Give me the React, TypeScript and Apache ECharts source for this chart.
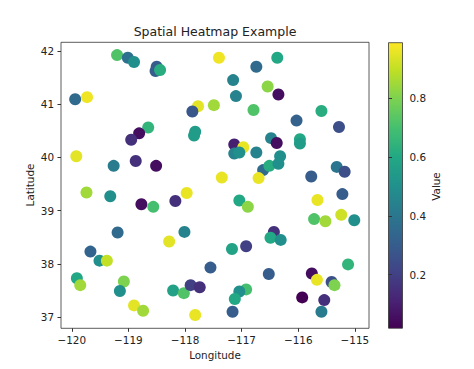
import React, { useEffect, useRef } from "react";
import * as echarts from "echarts";

const longitudes = [
  -119.2, -119.01, -118.9, -118.5, -118.52, -118.44, -117.4, -119.94, -119.73, -117.77,
  -117.49, -117.87, -118.65, -118.81, -118.95, -117.82, -117.84, -119.92, -119.26, -118.87,
  -118.51, -117.35, -116.74, -116.37, -117.15, -116.54, -116.35, -117.1, -116.79, -115.59,
  -116.03, -115.28, -116.48, -116.38, -115.97, -115.97, -117.13, -116.97, -117.13, -117.04,
  -116.74, -116.32, -116.62, -116.51, -116.35, -116.7, -115.77, -115.32, -115.18, -119.74,
  -119.32, -118.77, -118.56, -118.17, -117.97, -119.19, -118.28, -118.01, -119.67, -119.51,
  -119.38, -117.55, -119.91, -119.85, -119.08, -119.15, -118.21, -118.02, -117.9, -117.74,
  -118.9, -118.74, -117.82, -117.04, -116.89, -115.66, -115.22, -115.72, -115.52, -115.24,
  -115.01, -116.43, -116.49, -116.31, -117.17, -116.92, -116.52, -115.12, -115.76, -115.67,
  -115.41, -115.36, -115.93, -115.54, -116.92, -117.04, -117.12, -117.16, -115.59,
];

const latitudes = [
  41.92, 41.87, 41.79, 41.7, 41.62, 41.64, 41.87, 41.09, 41.13, 40.96,
  40.98, 40.86, 40.56, 40.45, 40.33, 40.48, 40.41, 40.02, 39.84, 39.93,
  39.84, 39.62, 41.7, 41.87, 41.45, 41.33, 41.18, 41.15, 40.89, 40.87,
  40.69, 40.57, 40.36, 40.27, 40.34, 40.26, 40.24, 40.19, 40.07, 40.09,
  40.09, 40.02, 39.76, 39.84, 39.88, 39.61, 39.64, 39.82, 39.73, 39.34,
  39.27, 39.12, 39.07, 39.18, 39.33, 38.59, 38.42, 38.6, 38.23, 38.06,
  38.06, 37.93, 37.73, 37.6, 37.67, 37.49, 37.5, 37.45, 37.6, 37.56,
  37.22, 37.12, 37.04, 39.19, 39.07, 39.2, 39.31, 38.84, 38.8, 38.92,
  38.82, 38.6, 38.49, 38.45, 38.28, 38.33, 37.81, 37.99, 37.82, 37.7,
  37.66, 37.6, 37.37, 37.32, 37.52, 37.48, 37.34, 37.1, 37.1,
];

const values = [
  0.72, 0.38, 0.5, 0.3, 0.3, 0.62, 0.97, 0.35, 0.97, 0.95,
  0.85, 0.28, 0.65, 0.05, 0.15, 0.55, 0.55, 0.95, 0.42, 0.15,
  0.05, 0.96, 0.35, 0.6, 0.45, 0.82, 0.05, 0.45, 0.72, 0.62,
  0.32, 0.25, 0.45, 0.05, 0.6, 0.55, 0.1, 0.96, 0.45, 0.5,
  0.45, 0.5, 0.35, 0.62, 0.5, 0.96, 0.3, 0.4, 0.25, 0.85,
  0.5, 0.05, 0.7, 0.15, 0.96, 0.35, 0.95, 0.45, 0.33, 0.5,
  0.9, 0.3, 0.6, 0.85, 0.8, 0.5, 0.57, 0.72, 0.2, 0.15,
  0.95, 0.85, 0.96, 0.6, 0.82, 0.96, 0.3, 0.72, 0.85, 0.92,
  0.5, 0.15, 0.6, 0.5, 0.58, 0.2, 0.3, 0.65, 0.05, 0.96,
  0.25, 0.8, 0.017, 0.15, 0.7, 0.5, 0.6, 0.3, 0.42,
];

const xTicks = [-120, -119, -118, -117, -116, -115];
const yTicks = [37, 38, 39, 40, 41, 42];
const cbTicks = [0.2, 0.4, 0.6, 0.8];

const viridis = [
  "#440154", "#482475", "#414487", "#355f8d", "#2a788e", "#21918c",
  "#22a884", "#44bf70", "#7ad151", "#bddf26", "#fde725",
];

const VMIN = 0.017;
const VMAX = 0.99;
const FONT = "DejaVu Sans";

export default function App() {
  const ref = useRef<HTMLDivElement>(null);
  useEffect(() => {
    if (!ref.current) return;
    const chart = echarts.init(ref.current, null, { renderer: "svg" });
    const data = longitudes.map((lon, i) => [lon, latitudes[i], values[i]]);
    const gradient = new echarts.graphic.LinearGradient(
      0, 1, 0, 0,
      viridis.map((c, i) => ({ offset: i / (viridis.length - 1), color: c }))
    );
    const minus = (v: number) => String(v).replace("-", "\u2212");
    const labelStyle = { color: "#222", fontFamily: FONT, fontSize: 10.4 };
    chart.setOption({
      animation: false,
      backgroundColor: "#fff",
      grid: [
        {
          left: 61, top: 42.3, width: 308, height: 286,
          show: true, borderColor: "#333", borderWidth: 0.8,
          backgroundColor: "transparent",
        },
        {
          left: 388.5, top: 42.7, width: 14, height: 285.5,
          show: true, borderColor: "#333", borderWidth: 0.8,
          backgroundColor: gradient,
        },
      ],
      xAxis: [
        {
          gridIndex: 0, type: "value", min: -120.19, max: -114.75,
          splitLine: { show: false },
          axisLine: { show: false },
          axisTick: { show: true, inside: false, length: 3.5, customValues: xTicks, lineStyle: { color: "#333" } },
          axisLabel: { ...labelStyle, margin: 7, customValues: xTicks, formatter: minus },
        },
        { gridIndex: 1, type: "value", show: false, min: 0, max: 1 },
      ],
      yAxis: [
        {
          gridIndex: 0, type: "value", min: 36.79, max: 42.16,
          splitLine: { show: false },
          axisLine: { show: false },
          axisTick: { show: true, inside: false, length: 3.5, customValues: yTicks, lineStyle: { color: "#333" } },
          axisLabel: { ...labelStyle, margin: 7, customValues: yTicks },
        },
        {
          gridIndex: 1, type: "value", position: "right", min: VMIN, max: VMAX,
          splitLine: { show: false },
          axisLine: { show: false },
          axisTick: { show: true, inside: false, length: 3.5, customValues: cbTicks, lineStyle: { color: "#333" } },
          axisLabel: { ...labelStyle, margin: 7, customValues: cbTicks, formatter: (v: number) => v.toFixed(1) },
        },
      ],
      visualMap: {
        show: false, type: "continuous", min: VMIN, max: VMAX, dimension: 2,
        seriesIndex: 0, inRange: { color: viridis },
      },
      series: [
        {
          type: "scatter", xAxisIndex: 0, yAxisIndex: 0, data,
          symbolSize: 12, itemStyle: { opacity: 1 },
        },
      ],
      graphic: [
        {
          type: "text", x: 215, y: 31,
          style: { text: "Spatial Heatmap Example", fontFamily: FONT, fontSize: 12.5, fill: "#222", textAlign: "center", textVerticalAlign: "middle" },
        },
        {
          type: "text", x: 215, y: 355,
          style: { text: "Longitude", fontFamily: FONT, fontSize: 10.4, fill: "#222", textAlign: "center", textVerticalAlign: "middle" },
        },
        {
          type: "text", x: 30, y: 185, rotation: Math.PI / 2,
          style: { text: "Latitude", fontFamily: FONT, fontSize: 10.4, fill: "#222", textAlign: "center", textVerticalAlign: "middle" },
        },
        {
          type: "text", x: 435.5, y: 186.5, rotation: Math.PI / 2,
          style: { text: "Value", fontFamily: FONT, fontSize: 10.4, fill: "#222", textAlign: "center", textVerticalAlign: "middle" },
        },
      ],
    });
    return () => chart.dispose();
  }, []);
  return <div ref={ref} style={{ width: 474, height: 369, position: "absolute", left: 0, top: 0 }} />;
}
